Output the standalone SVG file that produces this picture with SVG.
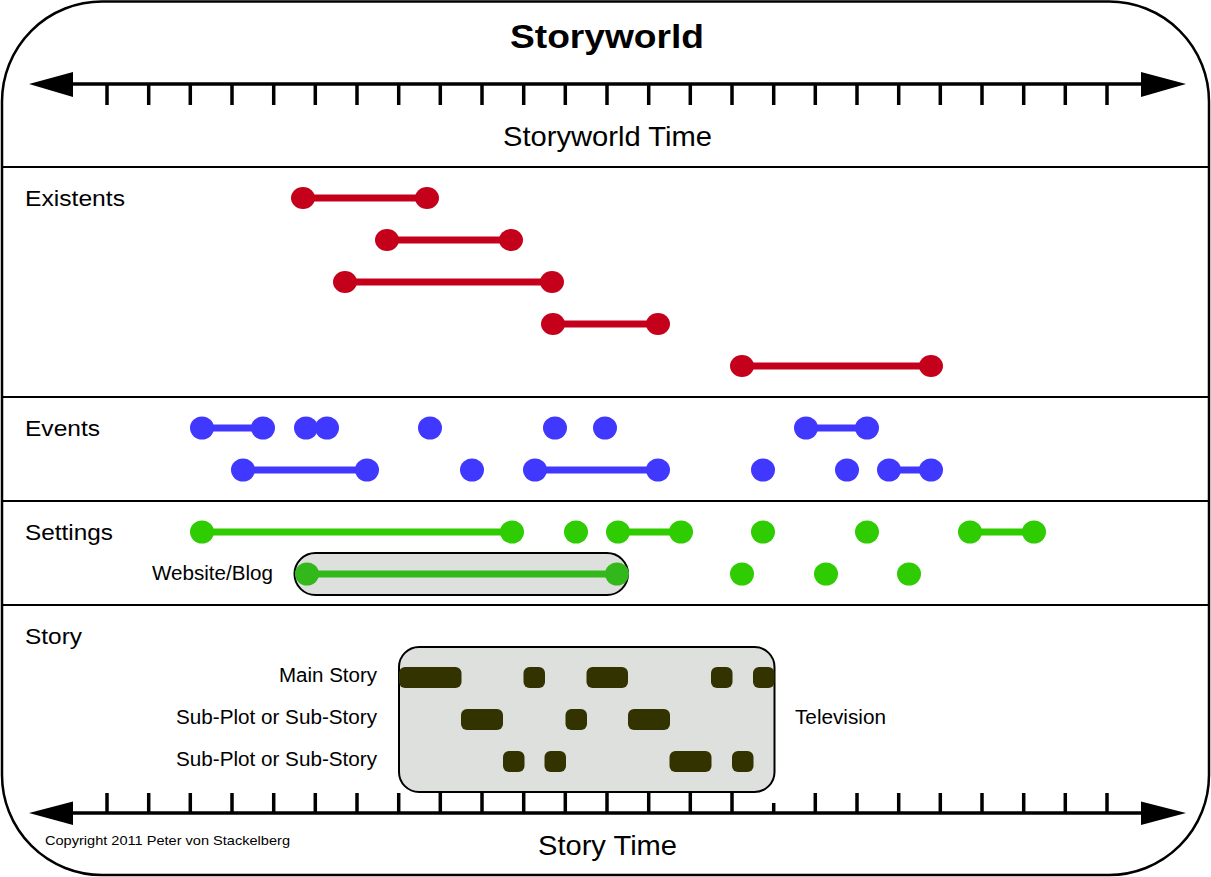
<svg xmlns="http://www.w3.org/2000/svg" width="1211" height="877" viewBox="0 0 1211 877">
<style>
text{font-family:"Liberation Sans",Arial,sans-serif;fill:#000}
.sec{font-size:22px}
.lbl{font-size:19.5px}
.sep{stroke:#000;stroke-width:2}
.tick{stroke:#000;stroke-width:3.5}
.axis{stroke:#000;stroke-width:3.5}
.red line{stroke:#c4001a;stroke-width:7}
.red ellipse{fill:#c4001a}
.blue line{stroke:#4038ff;stroke-width:7}
.blue ellipse{fill:#4038ff}
.green line{stroke:#2ecc00;stroke-width:7}
.green ellipse{fill:#2ecc00}
.web line{stroke:#33b81c;stroke-width:7}
.web ellipse{fill:#33b81c}
.blk{fill:#333300}
.box{fill:#dde0dc;stroke:#000;stroke-width:2}
</style>
<rect x="2" y="1.5" width="1207" height="873.5" rx="100" ry="100" fill="#fff" stroke="#000" stroke-width="2.5"/>
<g id="separators">
<line class="sep" x1="2" y1="167" x2="1209" y2="167"/>
<line class="sep" x1="2" y1="397" x2="1209" y2="397"/>
<line class="sep" x1="2" y1="501" x2="1209" y2="501"/>
<line class="sep" x1="2" y1="605" x2="1209" y2="605"/>
</g>
<text x="510" y="48" font-size="34" font-weight="bold" textLength="194" lengthAdjust="spacingAndGlyphs">Storyworld</text>
<g id="axis-top">
<line class="axis" x1="73" y1="84" x2="1141" y2="84"/>
<path d="M29,84 L73,72 L73,97 Z" fill="#000"/>
<path d="M1186,84 L1141,72 L1141,97 Z" fill="#000"/>
<path d="M107,84v21M148.7,84v21M190.3,84v21M232,84v21M273.7,84v21M315.3,84v21M357,84v21M398.7,84v21M440.3,84v21M482,84v21M523.7,84v21M565.3,84v21M607,84v21M648.7,84v21M690.3,84v21M732,84v21M773.7,84v21M815.3,84v21M857,84v21M898.7,84v21M940.3,84v21M982,84v21M1023.7,84v21M1065.3,84v21M1107,84v21" class="tick" fill="none"/>
</g>
<text x="503" y="146" font-size="28" textLength="209" lengthAdjust="spacingAndGlyphs">Storyworld Time</text>
<text class="sec" x="25" y="206" textLength="100" lengthAdjust="spacingAndGlyphs">Existents</text>
<text class="sec" x="25" y="436" textLength="75" lengthAdjust="spacingAndGlyphs">Events</text>
<text class="sec" x="25" y="540" textLength="88" lengthAdjust="spacingAndGlyphs">Settings</text>
<text class="sec" x="25" y="644" textLength="57" lengthAdjust="spacingAndGlyphs">Story</text>
<g id="existents" class="red">
<line x1="303" y1="198" x2="427" y2="198"/><ellipse cx="303" cy="198" rx="12" ry="11"/><ellipse cx="427" cy="198" rx="12" ry="11"/>
<line x1="387" y1="240" x2="511" y2="240"/><ellipse cx="387" cy="240" rx="12" ry="11"/><ellipse cx="511" cy="240" rx="12" ry="11"/>
<line x1="345" y1="282" x2="552" y2="282"/><ellipse cx="345" cy="282" rx="12" ry="11"/><ellipse cx="552" cy="282" rx="12" ry="11"/>
<line x1="553" y1="324" x2="658" y2="324"/><ellipse cx="553" cy="324" rx="12" ry="11"/><ellipse cx="658" cy="324" rx="12" ry="11"/>
<line x1="742" y1="366" x2="931" y2="366"/><ellipse cx="742" cy="366" rx="12" ry="11"/><ellipse cx="931" cy="366" rx="12" ry="11"/>
</g>
<g id="events" class="blue">
<line x1="202" y1="428" x2="263" y2="428"/><ellipse cx="202" cy="428" rx="12" ry="11.5"/><ellipse cx="263" cy="428" rx="12" ry="11.5"/>
<ellipse cx="306" cy="428" rx="12" ry="11.5"/><ellipse cx="327" cy="428" rx="12" ry="11.5"/>
<ellipse cx="430" cy="428" rx="12" ry="11.5"/>
<ellipse cx="555" cy="428" rx="12" ry="11.5"/>
<ellipse cx="605" cy="428" rx="12" ry="11.5"/>
<line x1="806" y1="428" x2="867" y2="428"/><ellipse cx="806" cy="428" rx="12" ry="11.5"/><ellipse cx="867" cy="428" rx="12" ry="11.5"/>
<line x1="243" y1="470" x2="367" y2="470"/><ellipse cx="243" cy="470" rx="12" ry="11.5"/><ellipse cx="367" cy="470" rx="12" ry="11.5"/>
<ellipse cx="472" cy="470" rx="12" ry="11.5"/>
<line x1="535" y1="470" x2="658" y2="470"/><ellipse cx="535" cy="470" rx="12" ry="11.5"/><ellipse cx="658" cy="470" rx="12" ry="11.5"/>
<ellipse cx="763" cy="470" rx="12" ry="11.5"/>
<ellipse cx="847" cy="470" rx="12" ry="11.5"/>
<line x1="889" y1="470" x2="931" y2="470"/><ellipse cx="889" cy="470" rx="12" ry="11.5"/><ellipse cx="931" cy="470" rx="12" ry="11.5"/>
</g>
<g id="settings" class="green">
<line x1="202" y1="532" x2="512" y2="532"/><ellipse cx="202" cy="532" rx="12" ry="11.5"/><ellipse cx="512" cy="532" rx="12" ry="11.5"/>
<ellipse cx="576" cy="532" rx="12" ry="11.5"/>
<line x1="618" y1="532" x2="681" y2="532"/><ellipse cx="618" cy="532" rx="12" ry="11.5"/><ellipse cx="681" cy="532" rx="12" ry="11.5"/>
<ellipse cx="763" cy="532" rx="12" ry="11.5"/>
<ellipse cx="867" cy="532" rx="12" ry="11.5"/>
<line x1="970" y1="532" x2="1034" y2="532"/><ellipse cx="970" cy="532" rx="12" ry="11.5"/><ellipse cx="1034" cy="532" rx="12" ry="11.5"/>
<ellipse cx="742" cy="574" rx="12" ry="11.5"/>
<ellipse cx="826" cy="574" rx="12" ry="11.5"/>
<ellipse cx="909" cy="574" rx="12" ry="11.5"/>
</g>
<g id="website-blog">
<rect class="box" x="294.5" y="553" width="333.5" height="42" rx="21" ry="21"/>
<g class="web">
<line x1="307" y1="574" x2="617" y2="574"/><ellipse cx="307" cy="574" rx="12" ry="11.5"/><ellipse cx="617" cy="574" rx="12" ry="11.5"/>
</g>
<text class="lbl" x="152" y="580" textLength="121" lengthAdjust="spacingAndGlyphs">Website/Blog</text>
</g>
<g id="television">
<rect class="box" x="399" y="647" width="375.5" height="145" rx="20" ry="20"/>
<rect class="blk" x="399" y="667" width="62.5" height="21" rx="6"/>
<rect class="blk" x="523.5" y="667" width="21.5" height="21" rx="6"/>
<rect class="blk" x="586.5" y="667" width="41.5" height="21" rx="6"/>
<rect class="blk" x="711" y="667" width="21.5" height="21" rx="6"/>
<rect class="blk" x="753" y="667" width="21.5" height="21" rx="6"/>
<rect class="blk" x="461" y="709" width="42" height="21" rx="6"/>
<rect class="blk" x="565.5" y="709" width="21.5" height="21" rx="6"/>
<rect class="blk" x="628" y="709" width="42" height="21" rx="6"/>
<rect class="blk" x="503" y="751" width="21.5" height="21" rx="6"/>
<rect class="blk" x="544.5" y="751" width="21.5" height="21" rx="6"/>
<rect class="blk" x="669.5" y="751" width="42" height="21" rx="6"/>
<rect class="blk" x="732" y="751" width="21.5" height="21" rx="6"/>
<text class="lbl" x="795" y="724" textLength="91" lengthAdjust="spacingAndGlyphs">Television</text>
</g>
<text class="lbl" x="279" y="682" textLength="98" lengthAdjust="spacingAndGlyphs">Main Story</text>
<text class="lbl" x="176" y="724" textLength="201" lengthAdjust="spacingAndGlyphs">Sub-Plot or Sub-Story</text>
<text class="lbl" x="176" y="766" textLength="201" lengthAdjust="spacingAndGlyphs">Sub-Plot or Sub-Story</text>
<g id="axis-bottom">
<line class="axis" x1="73" y1="813" x2="1141" y2="813"/>
<path d="M29,813 L73,801.5 L73,825 Z" fill="#000"/>
<path d="M1186,813 L1141,801.5 L1141,825 Z" fill="#000"/>
<path d="M107,813v-20M148.7,813v-20M190.3,813v-20M232,813v-20M273.7,813v-20M315.3,813v-20M357,813v-20M398.7,813v-20M440.3,813v-20M482,813v-20M523.7,813v-20M565.3,813v-20M607,813v-20M648.7,813v-20M690.3,813v-20M732,813v-20M773.7,813v-10M815.3,813v-20M857,813v-20M898.7,813v-20M940.3,813v-20M982,813v-20M1023.7,813v-20M1065.3,813v-20M1107,813v-20" class="tick" fill="none"/>
</g>
<text x="538" y="855" font-size="28" textLength="139" lengthAdjust="spacingAndGlyphs">Story Time</text>
<text x="45" y="845" font-size="13.5" textLength="245" lengthAdjust="spacingAndGlyphs">Copyright 2011 Peter von Stackelberg</text>
</svg>
